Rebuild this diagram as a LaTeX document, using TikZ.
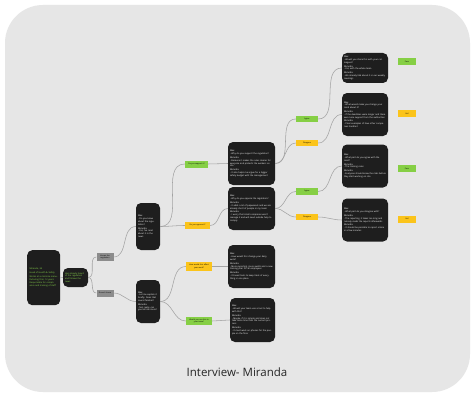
\documentclass[tikz,border=0pt]{standalone}
\usepackage{fontspec}
\setmainfont{Open Sans}
\definecolor{board}{HTML}{E6E6E6}
\definecolor{card}{HTML}{1E1E1E}
\definecolor{yes}{HTML}{86CF45}
\definecolor{maybe}{HTML}{FBC41B}
\definecolor{tag}{HTML}{8C8C8C}
\definecolor{wire}{HTML}{A3A3A3}
\definecolor{note}{HTML}{8FE04F}
\tikzset{
  card/.style={fill=card, rounded corners=5pt, inner sep=2pt, text=white,
    font=\fontsize{2.2}{2.8}\selectfont, align=left, anchor=center},
  yesbox/.style={fill=yes, inner sep=0pt, font=\fontsize{1.9}{2.4}\selectfont, align=center},
  maybebox/.style={fill=maybe, inner sep=0pt, font=\fontsize{1.9}{2.4}\selectfont, align=center},
  tagbox/.style={fill=tag, inner sep=0pt, font=\fontsize{1.9}{2.4}\selectfont, align=center},
  link/.style={draw=wire, line width=0.55pt},
}
\begin{document}
\begin{tikzpicture}[x=1pt,y=-1pt]
\useasboundingbox (0,0) rectangle (474,404);
\fill[white] (0,0) rectangle (474,404);
\fill[board, rounded corners=38pt] (5,5) rectangle (470,392);
% left column
\node[card, minimum width=33pt, minimum height=55pt, text width=28pt, text=note, anchor=north west] (profile) at (27,250)
  {Miranda, 34\\[1pt] Head of Health \& Safety\\[1pt] Works at a mid-size manufacturing firm, 12 years\\[1pt] Responsible for compliance and training of staff};
\node[card, minimum width=25pt, minimum height=19pt, text width=21pt, text=note] (context) at (75.5,277.5)
  {Has already heard of the regulation and follows the news};
\node[tagbox, minimum width=17pt, minimum height=8pt, text width=16pt] (heard) at (105,257) {Knows the\\regulation};
\node[tagbox, minimum width=17pt, minimum height=7pt, text width=16pt] (unheard) at (105,293) {Doesn't know};
% second column
\node[card, minimum width=24pt, minimum height=47pt, text width=20pt] (know) at (148,226.5)
  {Max:\\- Do you know about the regulation?\\[1pt] Miranda:\\- Yes, I've read about it in the news};
\node[card, minimum width=24pt, minimum height=43pt, text width=20pt] (explain) at (148,301.5)
  {Max:\\- Let me explain it briefly. Does that sound familiar?\\[1pt] Miranda:\\- Not really, can you tell me more?};
% questions
\node[yesbox, minimum width=23pt, minimum height=7pt] (support) at (196.5,164) {Do you support it?};
\node[maybebox, minimum width=25pt, minimum height=7pt] (oppose) at (197.5,225.5) {Do you oppose it?};
\node[maybebox, minimum width=26pt, minimum height=9pt, text width=25pt] (howsee) at (199,266.5) {How would this affect\\your work?};
\node[yesbox, minimum width=26pt, minimum height=8pt, text width=25pt] (wouldyou) at (199,321) {Would you use this in\\your team?};
% third column
\node[card, minimum width=47pt, minimum height=43pt, text width=43pt] (whysupport) at (251.5,163.5)
  {Max:\\- Why do you support the regulation?\\[1pt] Miranda:\\- Because it makes the rules clearer for everyone and protects the workers on site\\[1pt] Miranda:\\- It also helps me argue for a bigger safety budget with the management};
\node[card, minimum width=47pt, minimum height=43pt, text width=43pt] (whyoppose) at (251.5,208.5)
  {Max:\\- Why do you oppose the regulation?\\[1pt] Miranda:\\- It adds a lot of paperwork and we are already short of people in my team\\[1pt] Miranda:\\- I worry that small companies won't manage it and will need outside help to comply};
\node[card, minimum width=47pt, minimum height=43pt, text width=43pt] (affect) at (251.5,266.5)
  {Max:\\- How would this change your daily work?\\[1pt] Miranda:\\- More reporting, more audits and a new training plan for all employees\\[1pt] Miranda:\\- I'd need tools to keep track of everything in one place};
\node[card, minimum width=45pt, minimum height=44pt, text width=41pt] (usage) at (252.5,320)
  {Max:\\- Would your team use a tool to help with this?\\[1pt] Miranda:\\- Maybe, if it is simple and does not take more time than the current process\\[1pt] Miranda:\\- It must work on phones for the people on the floor};
% answers
\node[yesbox, minimum width=22pt, minimum height=6pt] (agree1) at (307,119) {Agree};
\node[maybebox, minimum width=22pt, minimum height=6pt] (disagree1) at (307,143) {Disagree};
\node[yesbox, minimum width=22pt, minimum height=7pt] (agree2) at (307,191.5) {Agree};
\node[maybebox, minimum width=22pt, minimum height=6pt] (disagree2) at (307,217) {Disagree};
% fourth column
\node[card, minimum width=46pt, minimum height=30pt, text width=42pt] (follow1) at (365,68)
  {Max:\\- Would you share this with your colleagues?\\[1pt] Miranda:\\- Yes, with the whole team\\[1pt] Miranda:\\- We already talk about it in our weekly meetings};
\node[card, minimum width=46pt, minimum height=43pt, text width=42pt] (follow2) at (365,114.5)
  {Max:\\- What would make you change your mind about it?\\[1pt] Miranda:\\- If the deadlines were longer and there was more support from the authorities\\[1pt] Miranda:\\- Clear examples of how other companies handle it};
\node[card, minimum width=46pt, minimum height=43pt, text width=42pt] (follow3) at (365,166)
  {Max:\\- What part do you agree with the most?\\[1pt] Miranda:\\- The training rules\\[1pt] Miranda:\\- Everyone should know the risks before they start working on site};
\node[card, minimum width=46pt, minimum height=43pt, text width=42pt] (follow4) at (365,220)
  {Max:\\- What part do you disagree with?\\[1pt] Miranda:\\- The reporting, it takes too long and nobody reads the reports afterwards\\[1pt] Miranda:\\- It should be possible to report online in a few minutes};
% outcomes
\node[yesbox, minimum width=18pt, minimum height=7pt] (res1) at (407,62) {Pass};
\node[maybebox, minimum width=18pt, minimum height=7pt] (res2) at (407,113.5) {Fail};
\node[yesbox, minimum width=18pt, minimum height=7pt] (res3) at (407,168.5) {Pass};
\node[maybebox, minimum width=18pt, minimum height=7pt] (res4) at (407,219) {Fail};
% connectors
\draw[link] (profile.east) -- (context.west);
\draw[link] (context.east) to[out=0,in=180] (heard.west);
\draw[link] (context.east) to[out=0,in=180] (unheard.west);
\draw[link] (heard.east) to[out=0,in=180] (know.west);
\draw[link] (unheard.east) to[out=0,in=180] (explain.west);
\draw[link] (know.east) to[out=0,in=180] (support.west);
\draw[link] (know.east) to[out=0,in=180] (oppose.west);
\draw[link] (explain.east) to[out=0,in=180] (howsee.west);
\draw[link] (explain.east) to[out=0,in=180] (wouldyou.west);
\draw[link] (support.east) -- (whysupport.west);
\draw[link] (oppose.east) to[out=0,in=180] (whyoppose.west);
\draw[link] (howsee.east) -- (affect.west);
\draw[link] (wouldyou.east) -- (usage.west);
\draw[link] (whysupport.east) to[out=0,in=180] (agree1.west);
\draw[link] (whysupport.east) to[out=0,in=180] (disagree1.west);
\draw[link] (whyoppose.east) to[out=0,in=180] (agree2.west);
\draw[link] (whyoppose.east) to[out=0,in=180] (disagree2.west);
\draw[link] (agree1.east) to[out=0,in=180] (follow1.west);
\draw[link] (disagree1.east) to[out=0,in=180] (follow2.west);
\draw[link] (agree2.east) to[out=0,in=180] (follow3.west);
\draw[link] (disagree2.east) to[out=0,in=180] (follow4.west);
% title
\node[font=\fontsize{11.5}{13}\selectfont, text=black!85] (title) at (237,372) {Interview- Miranda};
\end{tikzpicture}
\end{document}
